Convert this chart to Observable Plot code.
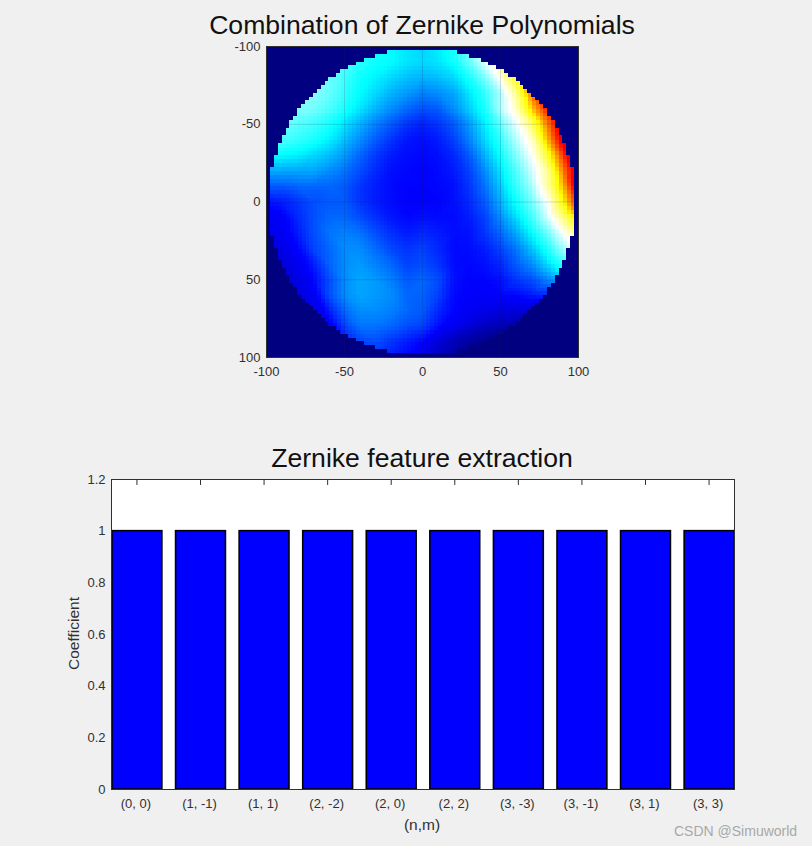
<!DOCTYPE html>
<html>
<head>
<meta charset="utf-8">
<script src="https://cdn.jsdelivr.net/npm/d3@7"></script>
<script src="https://cdn.jsdelivr.net/npm/@observablehq/plot@0.6"></script>
<style>
html,body{margin:0;padding:0;background:#f0f0f0;overflow:hidden}
#page{position:relative;width:812px;height:846px;font-family:"Liberation Sans",Arial,sans-serif;color:#111}
#page>div{position:absolute}
.title{left:0;text-align:center;white-space:nowrap}
svg{background:transparent!important}
</style>
</head>
<body>
<div id="page">
  <div id="topPlot" style="left:0;top:0"></div>
  <div id="bottomPlot" style="left:0;top:410px"></div>
  <div class="title" style="top:9px;left:0;width:844px;font-size:26.6px;line-height:32px">Combination of Zernike Polynomials</div>
  <div class="title" style="top:442px;left:0;width:844px;font-size:26.6px;line-height:32px">Zernike feature extraction</div>
  <div style="left:674px;top:823px;font-size:14px;line-height:16px;color:#a8a8a8">CSDN @Simuworld</div>
</div>
<script>
// Sample positions of the surface
const sampleX = [-100,-90,-80,-70,-60,-50,-40,-30,-20,-10,0,10,20,30,40,50,60,70,80,90,100];
const sampleY = [-100,-90,-80,-70,-60,-50,-40,-30,-20,-10,0,10,20,30,40,50,60,70,80,90,100];
// Surface level (rows top to bottom)
const surface = [
[2.8,2.7,2.6,2.5,2.4,2.3,2.2,2.1,2.0,1.9,1.85,1.95,2.1,2.5,3.0,3.6,4.3,5.0,5.5,5.5,5.5],
[2.8,2.7,2.6,2.5,2.4,2.3,2.15,2.05,2.0,1.9,1.85,1.9,2.05,2.4,2.9,3.7,4.4,5.0,5.5,5.5,5.5],
[2.8,2.7,2.6,2.5,2.4,2.25,2.05,1.95,1.85,1.75,1.7,1.75,1.85,2.1,2.5,3.1,3.9,4.7,5.3,5.5,5.5],
[2.8,2.7,2.6,2.55,2.4,2.2,2.0,1.85,1.7,1.6,1.5,1.55,1.65,1.9,2.2,2.7,3.4,4.6,5.2,5.5,5.5],
[2.7,2.6,2.5,2.45,2.3,2.1,1.9,1.7,1.55,1.4,1.3,1.35,1.55,1.8,2.1,2.7,3.2,4.2,4.9,5.5,5.7],
[2.5,2.45,2.35,2.25,2.1,1.9,1.7,1.5,1.35,1.2,1.12,1.2,1.35,1.6,1.95,2.4,2.9,3.6,4.5,5.3,5.7],
[2.3,2.3,2.2,2.1,1.95,1.75,1.55,1.35,1.2,1.08,1.04,1.1,1.25,1.5,1.85,2.2,2.7,3.2,4.25,5.2,5.7],
[2.0,2.0,1.95,1.85,1.75,1.6,1.4,1.22,1.1,1.04,1.02,1.05,1.15,1.35,1.7,2.05,2.5,3.0,3.8,4.8,5.6],
[1.65,1.65,1.65,1.65,1.55,1.45,1.3,1.15,1.05,1.02,1.0,1.03,1.1,1.25,1.55,1.9,2.3,2.8,3.4,4.5,5.4],
[1.35,1.35,1.4,1.4,1.4,1.35,1.2,1.1,1.03,1.0,1.0,1.02,1.05,1.2,1.45,1.8,2.2,2.65,3.35,4.3,5.4],
[1.05,1.1,1.2,1.3,1.35,1.35,1.2,1.1,1.04,1.0,1.0,1.0,1.05,1.15,1.35,1.7,2.05,2.45,3.0,4.0,5.0],
[0.9,0.95,1.15,1.3,1.4,1.4,1.3,1.18,1.08,1.02,1.05,1.03,1.03,1.1,1.25,1.55,1.85,2.25,2.8,3.5,4.2],
[0.8,0.9,1.1,1.3,1.45,1.5,1.45,1.3,1.18,1.1,1.15,1.1,1.04,1.06,1.2,1.4,1.65,2.0,2.4,3.0,3.5],
[0.7,0.8,1.0,1.25,1.4,1.55,1.55,1.42,1.28,1.2,1.25,1.15,1.03,1.03,1.1,1.25,1.45,1.75,2.1,2.6,3.0],
[0.6,0.7,0.9,1.1,1.38,1.55,1.6,1.5,1.4,1.25,1.3,1.2,1.03,1.02,1.05,1.15,1.35,1.55,1.85,2.2,2.5],
[0.5,0.6,0.8,1.0,1.3,1.55,1.65,1.6,1.5,1.35,1.4,1.3,1.05,1.0,1.0,1.05,1.2,1.3,1.5,1.7,1.9],
[0.4,0.5,0.7,0.9,1.3,1.55,1.65,1.6,1.55,1.4,1.38,1.25,1.03,0.98,0.95,1.0,1.02,1.1,1.15,1.2,1.2],
[0.4,0.5,0.6,0.8,1.1,1.4,1.55,1.55,1.5,1.4,1.35,1.15,1.0,0.9,0.8,0.75,0.7,0.7,0.7,0.7,0.7],
[0.4,0.5,0.6,0.7,0.9,1.25,1.45,1.45,1.4,1.3,1.25,1.05,0.9,0.7,0.5,0.4,0.3,0.3,0.3,0.3,0.3],
[0.4,0.5,0.6,0.7,0.9,1.1,1.25,1.3,1.2,1.1,1.0,0.7,0.45,0.25,0.1,0.0,0.0,0.0,0.0,0.0,0.0],
[0.4,0.5,0.6,0.7,0.9,1.1,1.2,1.2,1.1,1.0,0.85,0.55,0.3,0.1,0.0,0.0,0.0,0.0,0.0,0.0,0.0]
];
// First filled column of each of the 80 image rows, and the column past the last filled one
const rowStart = [40,31,28,25,23,21,19,18,16,15,14,13,12,11,10,9,8,8,7,6,6,5,5,4,4,3,3,3,2,2,2,1,1,1,1,1,1,1,1,1,
                  1,1,1,1,1,1,1,1,1,2,2,2,3,3,3,4,4,5,5,6,6,7,8,8,9,10,11,12,13,14,15,16,18,19,21,23,25,28,31,40];
const rowEnd = [40,49,52,55,57,59,61,62,64,65,66,67,68,69,70,71,72,72,73,74,74,75,75,76,76,77,77,77,78,78,78,79,79,79,79,79,79,79,79,79,
                79,79,79,79,79,79,79,79,79,78,78,78,77,77,77,76,76,75,75,74,74,73,72,72,71,70,69,68,67,66,65,64,62,61,59,57,55,52,49,40];
const backgroundColor = "#000080";
const colorLevels = [0,1,2,3,4,5,6];
const colorStops = ["#000080","#0000ff","#00ffff","#ffffff","#ffff00","#ff0000","#800000"];
const imageTicks = [-100,-50,0,50,100];
// Bars
const categories = ["(0, 0)","(1, -1)","(1, 1)","(2, -2)","(2, 0)","(2, 2)","(3, -3)","(3, -1)","(3, 1)","(3, 3)"];
const coefficients = [1,1,1,1,1,1,1,1,1,1];
const coefTicks = [0,0.2,0.4,0.6,0.8,1,1.2];

const samples = sampleY.flatMap((y,j)=>sampleX.map((x,i)=>({x,y,v:surface[j][i]})));
const cellUnit = 2.5;
const maskRows = rowStart.map((s,r)=>({r,s,e:rowEnd[r]}));
const axisColor = "#303030";
const font = {fontFamily:'"Liberation Sans",Arial,sans-serif',fontSize:"13px",background:"transparent",overflow:"visible"};

const topChart = Plot.plot({
  width:812,height:400,
  marginLeft:266,marginRight:234,marginTop:46,marginBottom:43,
  style:font,
  x:{domain:[-100,100]},
  y:{domain:[-100,100],reverse:true},
  color:{type:"linear",domain:colorLevels,range:colorStops,interpolate:"rgb",clamp:true},
  marks:[
    Plot.raster(samples,{x:"x",y:"y",fill:"v",x1:-100,x2:100,y1:-100,y2:100,pixelSize:3.9,interpolate:"barycentric",imageRendering:"pixelated"}),
    Plot.rect(maskRows,{x1:-100,x2:d=>-100+d.s*cellUnit,y1:d=>-100+d.r*cellUnit,y2:d=>-100+(d.r+1)*cellUnit,fill:backgroundColor,shapeRendering:"crispEdges"}),
    Plot.rect(maskRows,{x1:d=>-100+d.e*cellUnit,x2:100,y1:d=>-100+d.r*cellUnit,y2:d=>-100+(d.r+1)*cellUnit,fill:backgroundColor,shapeRendering:"crispEdges"}),
    Plot.gridX(imageTicks.slice(1,-1),{stroke:"#202040",strokeOpacity:0.16}),
    Plot.gridY(imageTicks.slice(1,-1),{stroke:"#202040",strokeOpacity:0.16}),
    Plot.frame({stroke:axisColor,strokeWidth:1}),
    Plot.axisX(imageTicks,{anchor:"bottom",tickSize:0,tickPadding:9,fontSize:13,label:null,tickFormat:d=>String(d),color:axisColor}),
    Plot.axisY(imageTicks,{anchor:"left",tickSize:0,tickPadding:6,fontSize:13,label:null,tickFormat:d=>String(d),color:axisColor})
  ]
});
document.getElementById("topPlot").appendChild(topChart);

const barData = categories.map((c,i)=>({c,v:coefficients[i]}));
const bottomChart = Plot.plot({
  width:812,height:436,
  marginLeft:111,marginRight:78,marginTop:69,marginBottom:57,
  style:font,
  x:{domain:categories,paddingInner:0.2,paddingOuter:0,align:0.5,round:false},
  y:{domain:[0,1.2]},
  marks:[
    Plot.frame({fill:"#ffffff",stroke:"none"}),
    Plot.barY(barData,{x:"c",y:"v",fill:"#0000ff",stroke:"#000000",strokeWidth:1.6,insetLeft:1,insetRight:0}),
    Plot.frame({stroke:axisColor,strokeWidth:1}),
    Plot.ruleX(categories,{x:d=>d,y1:1.2,y2:1.177,stroke:axisColor}),
    Plot.axisX({anchor:"bottom",tickSize:0,tickPadding:9,dx:-1,fontSize:13,label:null,color:axisColor}),
    Plot.axisY(coefTicks,{anchor:"left",tickSize:0,tickPadding:6,fontSize:13,label:null,tickFormat:d=>String(d),color:axisColor}),
    Plot.text(["(n,m)"],{frameAnchor:"bottom",lineAnchor:"middle",dy:36,dx:-1,fontSize:15.5,fill:axisColor}),
    Plot.text(["Coefficient"],{frameAnchor:"left",textAnchor:"middle",lineAnchor:"middle",dx:-37,dy:-1,rotate:-90,fontSize:15.5,fill:axisColor})
  ]
});
document.getElementById("bottomPlot").appendChild(bottomChart);
</script>
</body>
</html>
